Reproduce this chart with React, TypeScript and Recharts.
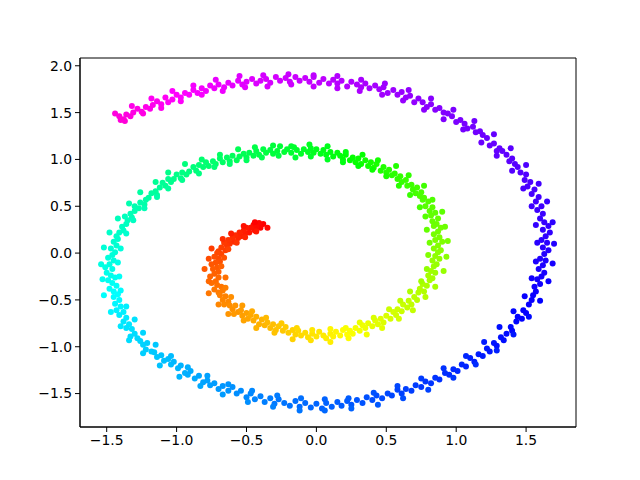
import { ReferenceArea, Scatter, ScatterChart, XAxis, YAxis } from "recharts";

// points, in order along the spiral (red centre -> magenta tail)
const innerTurn: [number, number][] = [
  [-0.38, 0.31], [-0.4, 0.27], [-0.41, 0.32], [-0.43, 0.28], [-0.45, 0.3], [-0.44, 0.24], [-0.47, 0.27],
  [-0.48, 0.22], [-0.5, 0.27], [-0.51, 0.21], [-0.52, 0.24], [-0.54, 0.18], [-0.55, 0.22],
  [-0.56, 0.16], [-0.58, 0.19], [-0.59, 0.12], [-0.6, 0.16], [-0.62, 0.1], [-0.63, 0.14],
  [-0.64, 0.08], [-0.66, 0.11], [-0.65, 0.03], [-0.68, 0.06], [-0.7, 0.02],
  [-0.68, -0.01], [-0.71, 0.0], [-0.7, -0.06], [-0.73, -0.04], [-0.69, -0.09],
  [-0.72, -0.1], [-0.75, -0.12], [-0.71, -0.15], [-0.74, -0.17], [-0.7, -0.2],
  [-0.73, -0.22], [-0.76, -0.25], [-0.7, -0.26], [-0.72, -0.3], [-0.75, -0.32],
  [-0.71, -0.34], [-0.68, -0.36], [-0.73, -0.39], [-0.7, -0.42], [-0.67, -0.4],
  [-0.69, -0.45], [-0.65, -0.46], [-0.67, -0.5], [-0.63, -0.52], [-0.66, -0.55],
  [-0.62, -0.56], [-0.6, -0.6], [-0.58, -0.56], [-0.56, -0.63], [-0.59, -0.65],
  [-0.54, -0.61], [-0.53, -0.67], [-0.5, -0.64], [-0.49, -0.7], [-0.47, -0.66],
  [-0.45, -0.72], [-0.43, -0.68], [-0.41, -0.76], [-0.39, -0.71], [-0.37, -0.77],
  [-0.35, -0.74], [-0.33, -0.8], [-0.31, -0.76], [-0.29, -0.82], [-0.27, -0.78],
  [-0.24, -0.83], [-0.22, -0.79], [-0.2, -0.85], [-0.17, -0.82], [-0.15, -0.87],
  [-0.13, -0.83], [-0.11, -0.88], [-0.08, -0.85], [-0.06, -0.9], [-0.03, -0.86],
  [0.0, -0.89], [0.02, -0.84], [0.05, -0.88], [0.07, -0.91], [0.1, -0.86],
  [0.12, -0.89], [0.14, -0.84], [0.17, -0.88], [0.19, -0.82], [0.22, -0.87],
  [0.24, -0.83], [0.26, -0.86], [0.28, -0.8], [0.31, -0.83], [0.33, -0.77],
  [0.35, -0.8], [0.37, -0.75], [0.4, -0.78], [0.42, -0.72], [0.44, -0.76],
  [0.46, -0.7], [0.48, -0.74], [0.5, -0.67], [0.53, -0.7], [0.55, -0.63],
  [0.57, -0.66], [0.58, -0.6], [0.61, -0.62], [0.62, -0.55], [0.65, -0.58],
  [0.66, -0.51], [0.68, -0.55], [0.7, -0.47], [0.72, -0.5], [0.73, -0.42],
  [0.74, -0.38], [0.77, -0.41], [0.76, -0.33], [0.79, -0.35], [0.81, -0.29],
  [0.8, -0.24], [0.83, -0.27], [0.82, -0.19], [0.85, -0.21], [0.84, -0.14],
  [0.86, -0.12], [0.83, -0.08], [0.88, -0.06], [0.85, -0.03], [0.87, 0.01],
  [0.89, 0.03], [0.84, 0.05], [0.87, 0.08], [0.9, 0.12], [0.85, 0.14],
  [0.88, 0.17], [0.84, 0.2], [0.87, 0.23], [0.89, 0.27], [0.84, 0.29],
  [0.86, 0.31], [0.83, 0.34], [0.87, 0.37], [0.82, 0.4], [0.85, 0.43],
  [0.81, 0.45], [0.83, 0.49], [0.78, 0.5], [0.8, 0.55], [0.76, 0.57],
  [0.77, 0.59], [0.74, 0.61], [0.75, 0.65], [0.71, 0.64], [0.72, 0.7],
  [0.69, 0.68], [0.68, 0.73], [0.65, 0.72], [0.64, 0.78], [0.61, 0.76],
  [0.6, 0.82], [0.58, 0.79], [0.56, 0.85], [0.54, 0.83], [0.52, 0.89],
  [0.5, 0.86], [0.48, 0.92], [0.46, 0.88], [0.43, 0.95], [0.41, 0.91],
  [0.39, 0.97], [0.37, 0.93], [0.35, 0.99], [0.32, 0.95], [0.3, 1.01],
  [0.28, 0.97], [0.26, 1.02], [0.24, 0.99], [0.21, 1.05], [0.19, 1.0],
  [0.17, 1.04], [0.15, 1.07], [0.12, 1.03], [0.1, 1.08], [0.07, 1.05],
  [0.05, 1.1], [0.03, 1.06], [0.0, 1.11], [-0.02, 1.07], [-0.04, 1.12],
];

// the scattered points at the edges of the band, same order
const innerTurnEdge: [number, number][] = [
  [-0.44, 0.33], [-0.35, 0.27], [-0.52, 0.29], [-0.43, 0.23], [-0.61, 0.21], [-0.51, 0.17],
  [-0.67, 0.15], [-0.57, 0.11], [-0.75, 0.05], [-0.63, 0.04], [-0.77, -0.06], [-0.66, -0.05],
  [-0.8, -0.17], [-0.68, -0.14], [-0.77, -0.3], [-0.65, -0.26], [-0.77, -0.43], [-0.65, -0.37],
  [-0.7, -0.55], [-0.61, -0.47], [-0.63, -0.65], [-0.53, -0.56], [-0.52, -0.72], [-0.46, -0.62],
  [-0.43, -0.8], [-0.36, -0.69], [-0.3, -0.85], [-0.25, -0.75], [-0.17, -0.92], [-0.14, -0.8],
  [-0.04, -0.93], [-0.03, -0.82], [0.1, -0.95], [0.1, -0.81], [0.23, -0.91], [0.21, -0.8],
  [0.36, -0.87], [0.31, -0.74], [0.47, -0.8], [0.41, -0.69], [0.59, -0.7], [0.52, -0.6],
  [0.69, -0.61], [0.6, -0.51], [0.78, -0.47], [0.67, -0.41], [0.85, -0.36], [0.75, -0.3],
  [0.91, -0.19], [0.79, -0.17], [0.93, -0.04], [0.8, -0.02], [0.94, 0.13], [0.81, 0.11],
  [0.92, 0.28], [0.79, 0.25], [0.9, 0.44], [0.78, 0.39], [0.83, 0.57], [0.74, 0.49],
  [0.77, 0.72], [0.67, 0.62], [0.66, 0.83], [0.59, 0.72], [0.57, 0.93], [0.5, 0.82],
  [0.44, 0.99], [0.4, 0.89], [0.33, 1.05], [0.3, 0.93], [0.21, 1.08], [0.19, 0.97],
  [0.08, 1.14], [0.08, 1.0],
];

const middleTurn: [number, number][] = [
  [-0.06, 1.08], [-0.09, 1.11], [-0.11, 1.06], [-0.14, 1.1], [-0.16, 1.13],
  [-0.18, 1.07], [-0.21, 1.11], [-0.23, 1.08], [-0.26, 1.14], [-0.28, 1.09],
  [-0.31, 1.06], [-0.33, 1.1], [-0.36, 1.07], [-0.38, 1.11], [-0.41, 1.05],
  [-0.43, 1.09], [-0.45, 1.04], [-0.48, 1.07], [-0.5, 1.02], [-0.52, 1.06],
  [-0.55, 1.03], [-0.57, 0.99], [-0.6, 1.04], [-0.62, 0.98], [-0.64, 1.02],
  [-0.67, 0.97], [-0.69, 1.01], [-0.72, 0.95], [-0.74, 0.98], [-0.77, 0.93],
  [-0.79, 0.97], [-0.81, 0.92], [-0.84, 0.94], [-0.86, 0.88], [-0.88, 0.92],
  [-0.91, 0.87], [-0.93, 0.84], [-0.96, 0.86], [-0.97, 0.8], [-1.0, 0.84],
  [-1.02, 0.79], [-1.04, 0.76], [-1.06, 0.79], [-1.08, 0.72], [-1.1, 0.75],
  [-1.12, 0.7], [-1.15, 0.66], [-1.14, 0.62], [-1.18, 0.64], [-1.2, 0.59],
  [-1.22, 0.57], [-1.23, 0.52], [-1.26, 0.54], [-1.27, 0.48], [-1.3, 0.5],
  [-1.3, 0.45], [-1.33, 0.42], [-1.32, 0.38], [-1.35, 0.35], [-1.37, 0.39],
  [-1.36, 0.31], [-1.39, 0.28], [-1.38, 0.24], [-1.41, 0.22], [-1.43, 0.18],
  [-1.42, 0.15], [-1.45, 0.12], [-1.43, 0.08], [-1.47, 0.05], [-1.44, 0.01],
  [-1.46, -0.02], [-1.49, -0.05], [-1.45, -0.08], [-1.48, -0.12], [-1.51, -0.15],
  [-1.46, -0.17], [-1.5, -0.21], [-1.47, -0.24], [-1.44, -0.26], [-1.49, -0.29],
  [-1.46, -0.32], [-1.43, -0.35], [-1.48, -0.38], [-1.45, -0.41], [-1.42, -0.44],
  [-1.45, -0.47], [-1.41, -0.5], [-1.44, -0.54], [-1.4, -0.57], [-1.43, -0.61],
  [-1.38, -0.63], [-1.41, -0.66], [-1.36, -0.69], [-1.38, -0.73], [-1.34, -0.76],
  [-1.36, -0.8], [-1.32, -0.81], [-1.3, -0.86], [-1.33, -0.89], [-1.28, -0.91],
  [-1.26, -0.94], [-1.24, -0.98], [-1.21, -0.96], [-1.22, -1.03], [-1.18, -1.05],
  [-1.16, -1.06], [-1.14, -1.11], [-1.11, -1.09], [-1.09, -1.15], [-1.06, -1.13],
  [-1.04, -1.19], [-1.02, -1.16], [-0.99, -1.23], [-0.97, -1.2], [-0.94, -1.28],
  [-0.92, -1.3], [-0.9, -1.26], [-0.87, -1.34], [-0.84, -1.31], [-0.81, -1.38],
  [-0.78, -1.36], [-0.76, -1.41], [-0.73, -1.39], [-0.7, -1.45], [-0.67, -1.42],
  [-0.63, -1.47], [-0.6, -1.43], [-0.57, -1.5], [-0.54, -1.47], [-0.5, -1.54],
  [-0.47, -1.5], [-0.44, -1.56], [-0.4, -1.53], [-0.37, -1.59], [-0.33, -1.55],
  [-0.3, -1.61], [-0.27, -1.56], [-0.23, -1.6], [-0.19, -1.63], [-0.15, -1.58],
  [-0.12, -1.64], [-0.08, -1.6], [-0.04, -1.65], [0.0, -1.61], [0.04, -1.66],
];

const middleTurnEdge: [number, number][] = [
  [-0.05, 1.16], [-0.04, 1.03], [-0.18, 1.14], [-0.15, 1.02], [-0.31, 1.15], [-0.27, 1.04],
  [-0.44, 1.13], [-0.39, 1.02], [-0.56, 1.11], [-0.5, 0.99], [-0.69, 1.05], [-0.62, 0.95],
  [-0.82, 1.0], [-0.73, 0.92], [-0.94, 0.95], [-0.84, 0.85], [-1.06, 0.86], [-0.96, 0.78],
  [-1.15, 0.76], [-1.06, 0.69], [-1.26, 0.65], [-1.14, 0.6], [-1.34, 0.53], [-1.23, 0.48],
  [-1.42, 0.37], [-1.31, 0.35], [-1.48, 0.22], [-1.36, 0.21], [-1.52, 0.06], [-1.4, 0.05],
  [-1.54, -0.12], [-1.42, -0.1], [-1.53, -0.28], [-1.41, -0.25], [-1.52, -0.45], [-1.4, -0.4],
  [-1.47, -0.63], [-1.36, -0.57], [-1.4, -0.78], [-1.3, -0.71], [-1.34, -0.93], [-1.24, -0.85],
  [-1.24, -1.07], [-1.15, -0.98], [-1.12, -1.2], [-1.04, -1.1], [-0.98, -1.32], [-0.92, -1.22],
  [-0.83, -1.42], [-0.78, -1.31], [-0.67, -1.51], [-0.63, -1.4], [-0.49, -1.59], [-0.46, -1.47],
  [-0.31, -1.64], [-0.28, -1.52], [-0.12, -1.68], [-0.11, -1.55], [0.06, -1.68], [0.06, -1.56],
];

const outerTurn: [number, number][] = [
  [0.07, -1.6], [0.11, -1.64], [0.15, -1.59], [0.18, -1.63], [0.22, -1.58],
  [0.25, -1.62], [0.29, -1.57], [0.33, -1.6], [0.36, -1.54], [0.4, -1.57],
  [0.43, -1.52], [0.47, -1.55], [0.51, -1.5], [0.54, -1.52], [0.58, -1.46],
  [0.61, -1.5], [0.64, -1.45], [0.68, -1.47], [0.71, -1.41], [0.75, -1.43],
  [0.78, -1.37], [0.82, -1.39], [0.85, -1.33], [0.88, -1.35], [0.92, -1.28],
  [0.95, -1.3], [0.98, -1.24], [1.01, -1.26], [1.04, -1.19], [1.07, -1.21],
  [1.1, -1.12], [1.13, -1.16], [1.16, -1.08], [1.19, -1.1], [1.22, -1.02],
  [1.24, -1.05], [1.27, -0.96], [1.29, -0.99], [1.32, -0.9], [1.34, -0.93],
  [1.36, -0.86], [1.39, -0.79], [1.4, -0.83], [1.43, -0.73], [1.44, -0.68],
  [1.47, -0.7], [1.48, -0.61], [1.5, -0.64], [1.52, -0.55], [1.54, -0.5],
  [1.55, -0.45], [1.57, -0.41], [1.56, -0.36], [1.6, -0.33], [1.58, -0.28],
  [1.61, -0.25], [1.63, -0.21], [1.59, -0.17], [1.62, -0.13], [1.64, -0.08],
  [1.6, -0.06], [1.63, -0.01], [1.66, 0.03], [1.62, 0.06], [1.65, 0.11],
  [1.61, 0.14], [1.64, 0.18], [1.67, 0.22], [1.62, 0.25], [1.66, 0.29],
  [1.63, 0.33], [1.6, 0.37], [1.62, 0.42], [1.58, 0.46], [1.61, 0.5],
  [1.57, 0.55], [1.59, 0.6], [1.54, 0.63], [1.56, 0.68], [1.51, 0.71],
  [1.53, 0.76], [1.49, 0.78], [1.5, 0.84], [1.46, 0.86], [1.44, 0.92],
  [1.42, 0.95], [1.4, 1.01], [1.38, 0.98], [1.36, 1.05], [1.33, 1.09],
  [1.31, 1.12], [1.29, 1.09], [1.27, 1.17], [1.24, 1.15], [1.22, 1.23],
  [1.19, 1.26], [1.17, 1.3], [1.14, 1.29], [1.12, 1.35], [1.08, 1.33],
  [1.06, 1.38], [1.03, 1.42], [1.0, 1.4], [0.97, 1.46], [0.94, 1.49],
  [0.91, 1.5], [0.88, 1.55], [0.85, 1.53], [0.82, 1.59], [0.79, 1.56],
  [0.76, 1.61], [0.73, 1.65], [0.7, 1.61], [0.67, 1.68], [0.64, 1.66],
  [0.61, 1.72], [0.58, 1.69], [0.55, 1.74], [0.51, 1.71], [0.48, 1.77],
  [0.45, 1.75], [0.42, 1.79], [0.38, 1.76], [0.35, 1.81], [0.32, 1.77],
  [0.29, 1.8], [0.25, 1.83], [0.22, 1.78], [0.18, 1.84], [0.15, 1.81],
  [0.12, 1.85], [0.09, 1.81], [0.05, 1.86], [0.02, 1.82], [-0.02, 1.88],
  [-0.05, 1.83], [-0.08, 1.87], [-0.12, 1.84], [-0.15, 1.88], [-0.19, 1.83],
  [-0.22, 1.87], [-0.26, 1.84], [-0.29, 1.88], [-0.33, 1.82], [-0.36, 1.86],
  [-0.4, 1.84], [-0.43, 1.81], [-0.46, 1.86], [-0.5, 1.83], [-0.53, 1.8],
  [-0.56, 1.84], [-0.6, 1.79], [-0.63, 1.82], [-0.66, 1.77], [-0.7, 1.8],
  [-0.73, 1.76], [-0.76, 1.79], [-0.79, 1.73], [-0.82, 1.76], [-0.85, 1.71],
  [-0.88, 1.74], [-0.91, 1.69], [-0.94, 1.71], [-0.97, 1.66], [-1.0, 1.69],
  [-1.03, 1.64], [-1.06, 1.61], [-1.08, 1.66], [-1.11, 1.59], [-1.14, 1.62],
  [-1.17, 1.58], [-1.19, 1.54], [-1.22, 1.56], [-1.25, 1.51], [-1.28, 1.54],
  [-1.31, 1.5], [-1.33, 1.46], [-1.36, 1.48], [-1.38, 1.43], [-1.41, 1.46], [-1.4, 1.42],
];

const outerTurnEdge: [number, number][] = [
  [0.25, -1.66], [0.23, -1.55], [0.44, -1.62], [0.41, -1.49], [0.62, -1.55], [0.58, -1.42],
  [0.8, -1.46], [0.75, -1.34], [0.98, -1.33], [0.91, -1.23], [1.14, -1.19], [1.07, -1.1],
  [1.29, -1.04], [1.2, -0.95], [1.41, -0.87], [1.31, -0.79], [1.52, -0.68], [1.41, -0.62],
  [1.6, -0.51], [1.49, -0.46], [1.66, -0.3], [1.54, -0.27], [1.69, -0.11], [1.57, -0.09],
  [1.7, 0.1], [1.58, 0.11], [1.69, 0.33], [1.57, 0.3], [1.65, 0.55], [1.54, 0.5],
  [1.59, 0.74], [1.48, 0.69], [1.5, 0.94], [1.4, 0.88], [1.39, 1.12], [1.29, 1.04],
  [1.27, 1.27], [1.18, 1.18], [1.13, 1.41], [1.05, 1.32], [0.98, 1.53], [0.91, 1.43],
  [0.82, 1.65], [0.77, 1.53], [0.66, 1.74], [0.62, 1.63], [0.49, 1.81], [0.47, 1.69],
  [0.32, 1.85], [0.31, 1.73], [0.15, 1.89], [0.15, 1.76], [-0.02, 1.9], [-0.02, 1.78],
  [-0.2, 1.91], [-0.18, 1.8], [-0.38, 1.9], [-0.35, 1.78], [-0.55, 1.89], [-0.51, 1.77],
  [-0.72, 1.85], [-0.67, 1.73], [-0.88, 1.79], [-0.82, 1.69], [-1.03, 1.73], [-0.97, 1.62],
  [-1.18, 1.65], [-1.11, 1.55], [-1.32, 1.57], [-1.24, 1.49], [-1.44, 1.49], [-1.37, 1.41],
];

// hue range (hsv colour map, degrees) covered by each turn
const turnHues: [number, number][] = [
  [0, 128],
  [128, 217],
  [217, 309],
];

const xTicks = [-1.5, -1.0, -0.5, 0.0, 0.5, 1.0, 1.5];
const yTicks = [-1.5, -1.0, -0.5, 0.0, 0.5, 1.0, 1.5, 2.0];
const xDomain: [number, number] = [-1.691, 1.857];
const yDomain: [number, number] = [-1.857, 2.083];

const colour = (pts: [number, number][], [h0, h1]: [number, number]) =>
  pts.map(([x, y], i) => ({
    x,
    y,
    color: `hsl(${h0 + ((h1 - h0) * i) / (pts.length - 1)}, 100%, 50%)`,
  }));

const chartData = [
  ...colour(innerTurn, turnHues[0]),
  ...colour(innerTurnEdge, turnHues[0]),
  ...colour(middleTurn, turnHues[1]),
  ...colour(middleTurnEdge, turnHues[1]),
  ...colour(outerTurn, turnHues[2]),
  ...colour(outerTurnEdge, turnHues[2]),
];

const fmt = (v: number) => v.toFixed(1).replace("-", "\u2212");

const tickStyle = { fill: "#000", fontSize: 13.9, fontFamily: "DejaVu Sans" };

const Dot = (props: any) => (
  <circle cx={props.cx} cy={props.cy} r={3} fill={props.payload.color} />
);

export default function App() {
  return (
    <div style={{ position: "absolute", left: 0, top: 0, background: "#fff" }}>
      <ScatterChart
        width={640}
        height={480}
        margin={{ top: 58, right: 64, bottom: 0, left: 0 }}
      >
        <XAxis
          type="number"
          dataKey="x"
          domain={xDomain}
          ticks={xTicks}
          allowDataOverflow
          tickFormatter={fmt}
          tick={tickStyle}
          stroke="#000"
          tickSize={5}
          tickMargin={3}
          height={53}
        />
        <YAxis
          type="number"
          dataKey="y"
          domain={yDomain}
          ticks={yTicks}
          allowDataOverflow
          tickFormatter={fmt}
          tick={tickStyle}
          stroke="#000"
          tickSize={5}
          tickMargin={3}
          width={80}
        />
        <ReferenceArea
          x1={xDomain[0]}
          x2={xDomain[1]}
          y1={yDomain[0]}
          y2={yDomain[1]}
          fill="none"
          stroke="#000"
          strokeWidth={1}
        />
        <Scatter data={chartData} shape={Dot} isAnimationActive={false} />
      </ScatterChart>
    </div>
  );
}
